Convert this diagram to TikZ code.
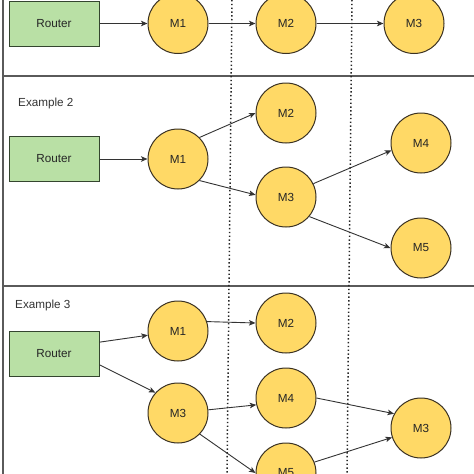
\documentclass[tikz,border=0pt]{standalone}
\usepackage{fontspec}
\setmainfont{Liberation Sans}
\usepackage{tikz}
\usetikzlibrary{arrows.meta}
\definecolor{routergreen}{HTML}{B9E0A5}
\definecolor{routerline}{HTML}{34452F}
\definecolor{moduleyellow}{HTML}{FFD966}
\definecolor{moduleline}{HTML}{3A3122}
\definecolor{sepgray}{HTML}{5A5A5A}
\tikzstyle{router} = [rectangle, text centered, draw=routerline, fill=routergreen, line width=1pt, minimum width=90, minimum height=45, text=black!85]
\tikzstyle{module} = [circle, text centered, draw=moduleline, fill=moduleyellow, line width=1pt, minimum size=60, inner sep=0pt, text=black!85]
\tikzstyle{arrow} = [line width=0.9pt, draw=black!80, ->, >={Stealth[length=6.5pt, width=5.5pt, inset=1.5pt]}]
\tikzstyle{title} = [anchor=west, inner sep=0pt, text=black!80]
\tikzstyle{divider} = [black!85, line width=1.5pt, dash pattern=on 1.4pt off 2.4pt]

\begin{document}
\begin{tikzpicture}[x=1pt, y=-1pt, font=\fontsize{11.7}{13}\selectfont]

  \useasboundingbox (0,0) rectangle (474,474);
  \clip (0,0) rectangle (474,474);

  % frame and separators
  \draw [sepgray, line width=1.4pt] (3,0) -- (3,474);
  \draw [sepgray, line width=1.3pt] (3,76) -- (474,76);
  \draw [sepgray, line width=1.3pt] (3,286) -- (474,286);
  \draw [divider] (232,0) -- (227,474);
  \draw [divider] (352,0) -- (347,474);

  % example 1
  \node (router1) [router] at (54,23.5) {Router};
  \node (ex1m1) [module] at (178,23.5) {M1};
  \node (ex1m2) [module] at (286,23.5) {M2};
  \node (ex1m3) [module] at (414,23.5) {M3};

  \draw [arrow] (router1.east) -- (ex1m1.west);
  \draw [arrow] (ex1m1.east) -- (ex1m2.west);
  \draw [arrow] (ex1m2.east) -- (ex1m3.west);

  % example 2
  \node (title2) [title] at (18,103) {Example 2};
  \node (router2) [router] at (54,159) {Router};
  \node (ex2m1) [module] at (178,159) {M1};
  \node (ex2m2) [module] at (286,113) {M2};
  \node (ex2m3) [module] at (286,197) {M3};
  \node (ex2m4) [module] at (421,143) {M4};
  \node (ex2m5) [module] at (421,248) {M5};

  \draw [arrow] (router2.east) -- (ex2m1.west);
  \draw [arrow] (ex2m1.45) -- (ex2m2.west);
  \draw [arrow] (ex2m1.-45) -- (ex2m3.176);
  \draw [arrow] (ex2m3.26) -- (ex2m4.194);
  \draw [arrow] (ex2m3.-40) -- (ex2m5.west);

  % example 3
  \node (title3) [title] at (15,305) {Example 3};
  \node (router3) [router] at (54,353.5) {Router};
  \node (ex3m1) [module] at (178,331) {M1};
  \node (ex3m2) [module] at (286,323) {M2};
  \node (ex3m3) [module] at (178,413) {M3};
  \node (ex3m4) [module] at (286,398) {M4};
  \node (ex3m5) [module] at (286,473) {M5};
  \node (ex3m6) [module] at (421,428) {M3};

  \draw [arrow] (router3.14) -- (ex3m1.188);
  \draw [arrow] (router3.-14) -- (ex3m3.138);
  \draw [arrow] (ex3m1.18) -- (ex3m2.west);
  \draw [arrow] (ex3m3.6) -- (ex3m4.193);
  \draw [arrow] (ex3m3.-44) -- (ex3m5.west);
  \draw [arrow] (ex3m4.east) -- (ex3m6.152);
  \draw [arrow] (ex3m5.21) -- (ex3m6.198);

\end{tikzpicture}
\end{document}
